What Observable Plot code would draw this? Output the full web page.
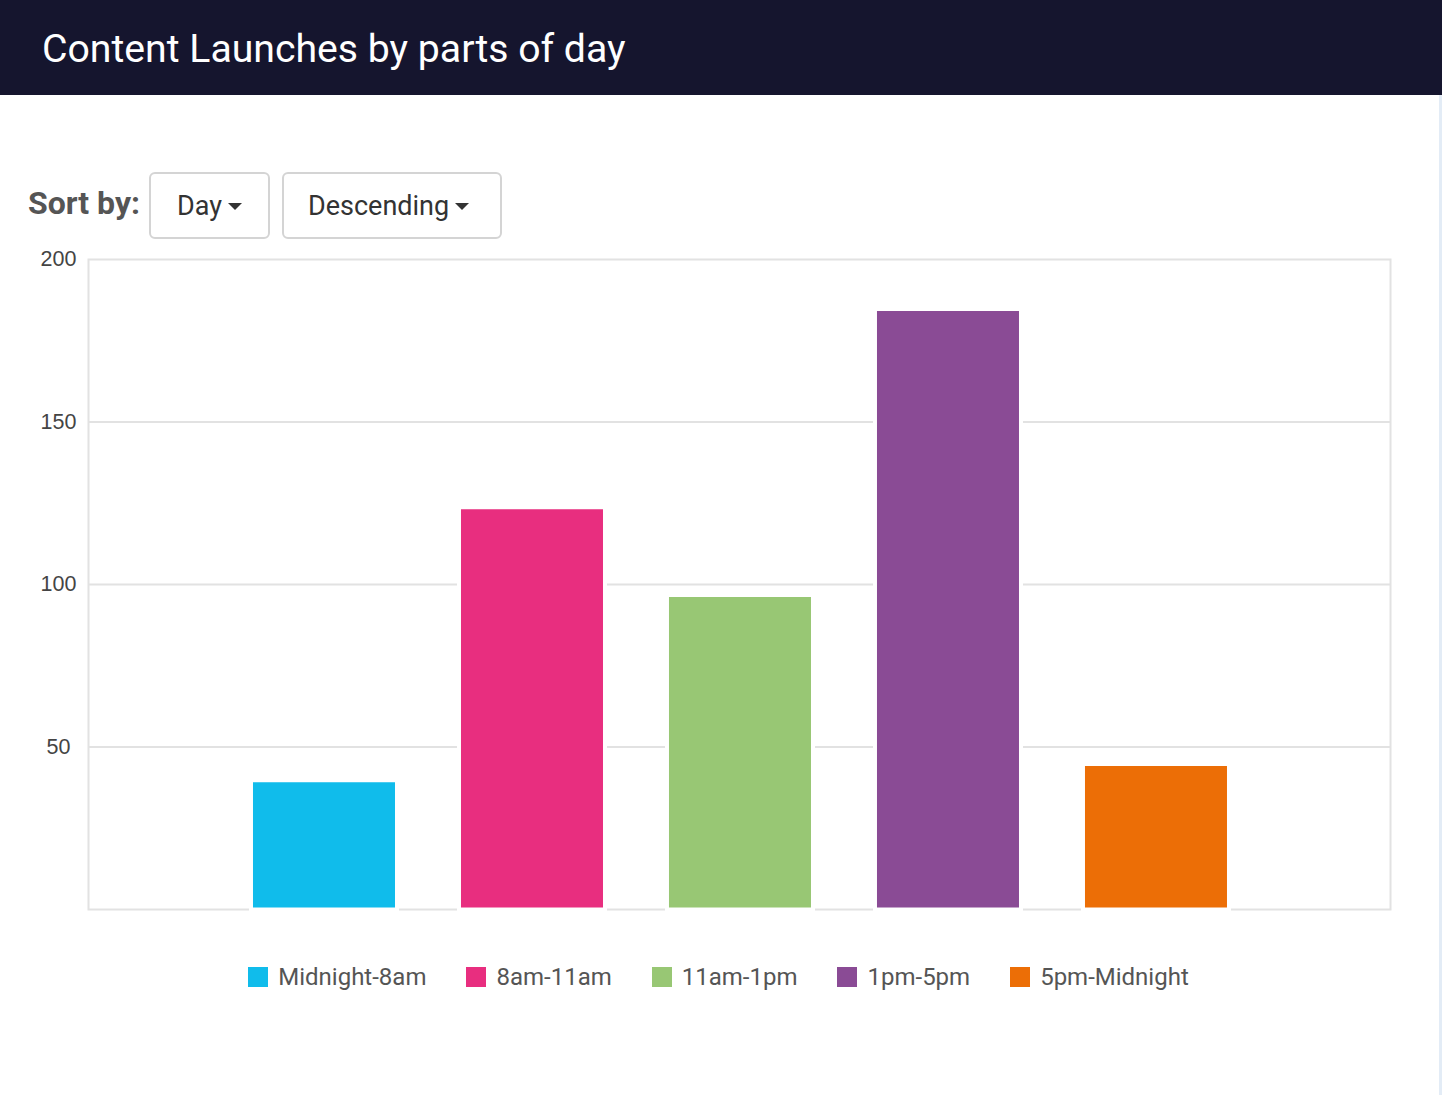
<!DOCTYPE html>
<html>
<head>
<meta charset="utf-8">
<script src="https://cdn.jsdelivr.net/npm/d3@7"></script>
<script src="https://cdn.jsdelivr.net/npm/@observablehq/plot@0.6"></script>
<style>
  body { margin: 0; background: #fff; width: 1442px; height: 1095px; position: relative; overflow: hidden; font-family: Roboto, "Noto Sans", sans-serif; }
  #header { position: absolute; left: 0; top: 0; width: 1442px; height: 95px; background: #15152e; }
  #title { position: absolute; left: 42px; top: 30px; font-size: 39.2px; line-height: 1; color: #fff; font-weight: 400; white-space: nowrap; }
  #edge { position: absolute; left: 1439px; top: 95px; width: 3px; height: 1000px; background: #e3ecf6; }
  #sortlbl { position: absolute; left: 28px; top: 187px; font-size: 32px; line-height: 1; font-weight: 700; color: #555; }
  .btn { position: absolute; top: 172px; height: 67px; box-sizing: border-box; border: 2px solid #d4d4d4; border-radius: 6px; display: flex; align-items: center; font-size: 27px; color: #333; }
  .caret { display: inline-block; width: 0; height: 0; border-top: 7px solid #333; border-left: 7px solid transparent; border-right: 7px solid transparent; margin-left: 6px; margin-top: 2px; }
  #chart { position: absolute; left: 0; top: 245px; }
  #legend { position: absolute; left: 0; top: 963px; width: 1437px; display: flex; justify-content: center; gap: 40px; font-size: 24px; color: #555; }
  .item { display: flex; align-items: center; height: 28px; }
  .sw { width: 20px; height: 20px; margin-right: 10px; }
</style>
</head>
<body>
<div id="header"><div id="title">Content Launches by parts of day</div></div>
<div id="edge"></div>
<div id="sortlbl">Sort by:</div>
<div class="btn" style="left:149px;width:121px;padding-left:26px;">Day<span class="caret"></span></div>
<div class="btn" style="left:282px;width:220px;padding-left:24px;">Descending<span class="caret"></span></div>
<div id="chart"></div>
<div id="legend"></div>
<script>
const categories = ["Midnight-8am", "8am-11am", "11am-1pm", "1pm-5pm", "5pm-Midnight"];
const values = [39, 123, 96, 184, 44];
const colors = ["#10bceb", "#e82e7f", "#98c774", "#8a4b95", "#ec6e06"];
const yTicks = [50, 100, 150, 200];
const gridTicks = [50, 100, 150];

const data = categories.map((c, i) => ({category: c, value: values[i]}));

const chart = Plot.plot({
  width: 1442,
  height: 674,
  marginTop: 14,
  marginBottom: 10,
  marginLeft: 88,
  marginRight: 52,
  style: {background: "transparent", overflow: "visible"},
  x: {domain: categories, paddingInner: 0.3173, paddingOuter: 0.7885, align: 0.503, round: false, axis: null},
  y: {domain: [0, 200]},
  color: {domain: categories, range: colors},
  marks: [
    Plot.frame({stroke: "#e2e2e2", strokeWidth: 2}),
    Plot.gridY(gridTicks, {stroke: "#e2e2e2", strokeOpacity: 1, strokeWidth: 2}),
    Plot.barY(data, {x: "category", y: "value", fill: "#fff", insetLeft: -4, insetRight: -4, insetTop: -4, insetBottom: -4}),
    Plot.barY(data, {x: "category", y: "value", fill: "category", insetBottom: 1.5}),
    Plot.axisY(yTicks, {tickSize: 0, tickPadding: 30, textAnchor: "middle", fontSize: 21.5, fill: "#444", fontFamily: "'Liberation Sans', Arial, sans-serif", label: null})
  ]
});
document.getElementById("chart").appendChild(chart);

const legend = document.getElementById("legend");
categories.forEach((c, i) => {
  const item = document.createElement("div");
  item.className = "item";
  const sw = document.createElement("span");
  sw.className = "sw";
  sw.style.background = colors[i];
  const t = document.createElement("span");
  t.textContent = c;
  item.appendChild(sw);
  item.appendChild(t);
  legend.appendChild(item);
});
</script>
</body>
</html>
